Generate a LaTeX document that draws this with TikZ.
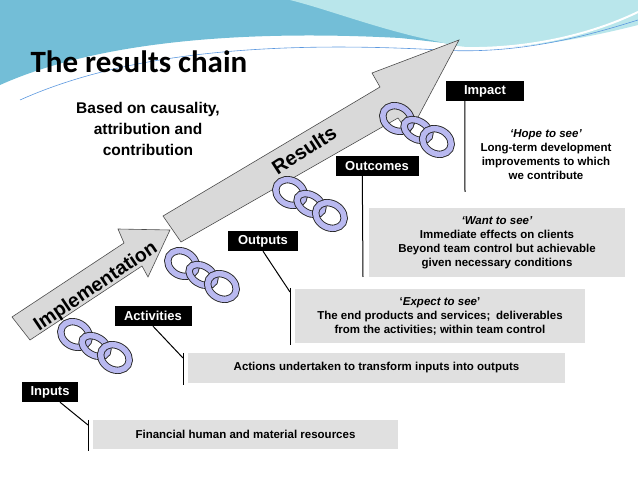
\documentclass[tikz,border=0pt]{standalone}
\usepackage{fontspec}
\setmainfont{Liberation Sans}
\newfontfamily\titlefont{Carlito}
\definecolor{wavedark}{RGB}{115,190,215}
\definecolor{wavelight}{RGB}{185,230,235}
\definecolor{lav}{RGB}{185,185,240}
\begin{document}
\begin{tikzpicture}[x=1pt,y=-1pt,
  lab/.style={fill=black,text=white,font=\bfseries\fontsize{13}{15}\selectfont,minimum height=20pt,inner sep=2pt},
  gbox/.style={fill=black!12,font=\bfseries\fontsize{11.5}{14}\selectfont,align=center,inner sep=0pt},
  conn/.style={line width=1pt},
  arr/.style={fill=black!15,draw=black!70,line width=0.6pt},
  ring/.style={draw=black!85,double=lav,double distance=5.5pt,line width=0.9pt}]
\useasboundingbox (0,0) rectangle (638,478);
% background banner
\fill[wavedark] (0,0) -- (638,0) -- (638,10) .. controls (520,60) and (470,45) .. (400,38) .. controls (250,30) and (100,40) .. (0,85) -- cycle;
\fill[wavelight] (290,0) -- (638,0) -- (638,25) .. controls (560,45) and (480,55) .. (440,42) .. controls (380,30) and (330,10) .. (290,0) -- cycle;
\draw[white,line width=2pt] (0,88) .. controls (100,45) and (250,35) .. (420,45) .. controls (500,55) and (580,40) .. (638,12);
\draw[wavedark!80!blue,line width=0.6pt] (20,100) .. controls (120,55) and (260,40) .. (440,50) .. controls (520,55) and (590,35) .. (638,20);
% title
\node[font=\titlefont\bfseries\fontsize{31}{34}\selectfont,anchor=west] (title) at (27,62) {The results chain};
\node[font=\bfseries\fontsize{15.5}{21}\selectfont,align=center] (basis) at (148,129) {Based on causality,\\attribution and\\contribution};
% arrows
\draw[arr] (163,216) -- (380,87) -- (372,73) -- (459,40) -- (409,134) -- (398,118) -- (181,242) -- cycle;
\draw[arr] (12,317) -- (124,243) -- (118,229) -- (170,230) -- (148,277) -- (142,266) -- (30,340) -- cycle;
\node[rotate=34,font=\bfseries\fontsize{19.5}{22}\selectfont,inner sep=0pt] (impl) at (96,287) {Implementation};
\node[rotate=33,font=\bfseries\fontsize{20}{22}\selectfont,inner sep=0pt] (res) at (304,150) {Results};
% chains
\foreach \cx/\cy in {95/346,202/275,310/204,417/130}{
  \begin{scope}[shift={(\cx,\cy)},rotate=-30]
    \draw[ring] (-23,0) ellipse (15 and 12);
    \draw[ring] (0,0) ellipse (14 and 9);
    \draw[ring] (23,0) ellipse (15 and 12);
  \end{scope}}
% labels
\node[lab,minimum width=56pt] (inputs) at (50,392) {Inputs};
\node[lab,minimum width=77pt] (activities) at (153,316) {Activities};
\node[lab,minimum width=70pt] (outputs) at (263,241) {Outputs};
\node[lab,minimum width=83pt] (outcomes) at (377,166) {Outcomes};
\node[lab,minimum width=78pt] (impact) at (485,91) {Impact};
% boxes
\node[gbox,minimum width=305pt,minimum height=29pt] (b1) at (245.5,434.5) {Financial human and material resources};
\node[gbox,minimum width=377pt,minimum height=30pt] (b2) at (376.5,368) {Actions undertaken to transform inputs into outputs};
\node[gbox,minimum width=290pt,minimum height=54pt] (b3) at (440,316) {\textbf{‘\textit{Expect to see}’}\\The end products and services;\enspace deliverables\\from the activities; within team control};
\node[gbox,minimum width=256pt,minimum height=69pt] (b4) at (497,242.5) {\textit{‘Want to see’}\\Immediate effects on clients\\Beyond team control but achievable\\given necessary conditions};
\node[font=\bfseries\fontsize{11.5}{14}\selectfont,align=center] (b5) at (546,155) {\textit{‘Hope to see’}\\Long-term development\\improvements to which\\we contribute};
% connectors
\coordinate (c1) at (88,425);
\coordinate (c2) at (183,358);
\coordinate (c3) at (290,292);
\draw[conn] (inputs.south) ++(10,0) -- (c1);
\draw[conn] (88,420) -- (88,451);
\draw[conn] (activities.south) -- (c2);
\draw[conn] (183,353) -- (183,385);
\draw[conn] (outputs.south) -- (c3);
\draw[conn] (290,288) -- (290,345);
\draw[conn] (outcomes.south west) ++(27,0) -- (363,277);
\draw[conn] (impact.south west) ++(19,0) -- (465,192);
\end{tikzpicture}
\end{document}
